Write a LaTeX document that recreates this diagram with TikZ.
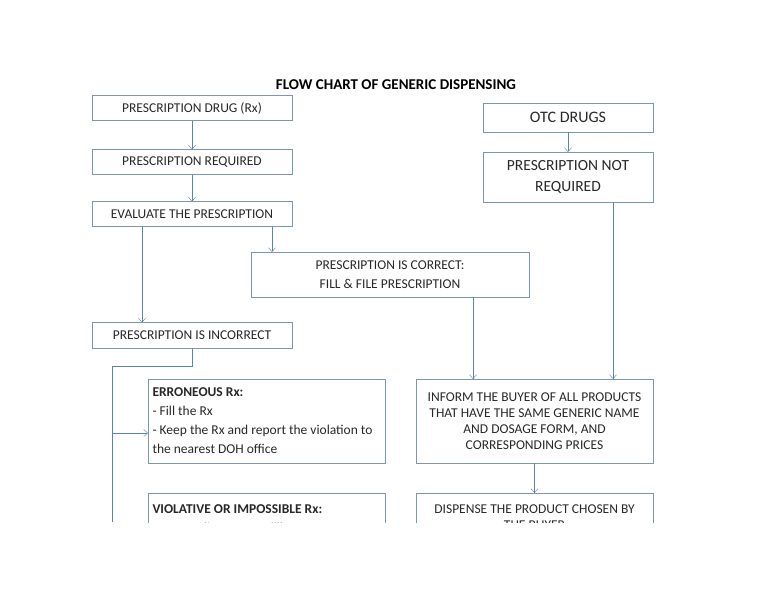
\documentclass[tikz,border=0pt]{standalone}
\usepackage{fontspec}
\setmainfont{Carlito}
\usepackage{xcolor}
\usepackage{tikz}
\usetikzlibrary{positioning,arrows.meta}
\definecolor{BoxLine}{RGB}{125,150,178}
\definecolor{FlowLine}{RGB}{92,130,175}
\definecolor{InkGray}{RGB}{40,40,40}

\begin{document}
\begin{tikzpicture}[x=1pt,y=-1pt]
        % Định nghĩa style cho các ô
        \tikzstyle{box} = [
            draw=BoxLine,
            thin,
            font=\fontsize{13.5}{16}\selectfont,
            text=InkGray,
            align=center,
            inner sep=0pt,
            outer sep=0pt
        ]
        \tikzstyle{listbox} = [
            box,
            minimum width=237pt,
            text width=228pt,
            align=flush left,
            font=\fontsize{13.5}{19}\selectfont
        ]
        \tikzstyle{flow} = [
            draw=FlowLine,
            thin,
            -{Straight Barb[length=4pt,width=7pt]}
        ]
        \tikzstyle{wire} = [draw=FlowLine, thin]

        \useasboundingbox (0,0) rectangle (768,594);

        % Tiêu đề
        \node[font=\fontsize{15}{18}\bfseries\selectfont, text=black] (title) at (396,85) {FLOW CHART OF GENERIC DISPENSING};

        % Cột trái (Rx)
        \node[box, minimum width=200pt, minimum height=25pt] (rxdrug) at (192,108) {PRESCRIPTION DRUG (Rx)};
        \node[box, minimum width=200pt, minimum height=25pt] (rxreq) at (192,162) {PRESCRIPTION REQUIRED};
        \node[box, minimum width=200pt, minimum height=25pt] (rxeval) at (192,214) {EVALUATE THE PRESCRIPTION};
        \node[box, minimum width=278pt, minimum height=45pt, font=\fontsize{13.5}{19}\selectfont] (rxok) at (390,274.5) {PRESCRIPTION IS CORRECT:\\FILL \& FILE PRESCRIPTION};
        \node[box, minimum width=200pt, minimum height=26pt] (rxbad) at (192,335.5) {PRESCRIPTION IS INCORRECT};

        % Cột phải (OTC)
        \node[box, minimum width=170pt, minimum height=29pt, font=\fontsize{16}{19}\selectfont] (otc) at (568,117.5) {OTC DRUGS};
        \node[box, minimum width=170pt, minimum height=50pt, font=\fontsize{15.5}{21}\selectfont] (otcnot) at (568,177) {PRESCRIPTION NOT\\REQUIRED};
        \node[box, minimum width=237pt, minimum height=84pt] (inform) at (534.5,421) {INFORM THE BUYER OF ALL PRODUCTS\\THAT HAVE THE SAME GENERIC NAME\\AND DOSAGE FORM, AND\\CORRESPONDING PRICES};
        \node[listbox, minimum height=84pt] (erroneous) at (266.5,421) {\textbf{ERRONEOUS Rx:}\\- Fill the Rx\\- Keep the Rx and report the violation to\\the nearest DOH office};

        % Các ô bị cắt ở đáy hình
        \begin{scope}
            \clip (0,0) rectangle (768,522);
            \node[listbox, anchor=north, inner ysep=11.5pt] (violative) at (266.5,493) {\textbf{VIOLATIVE OR IMPOSSIBLE Rx:}\\- Do not dispense, or fill\\[20pt]};
            \node[box, anchor=north, minimum width=237pt, inner ysep=12pt] (dispense) at (534.5,493) {DISPENSE THE PRODUCT CHOSEN BY\\THE BUYER\\[10pt]};
            \coordinate (trunkend) at (112,522);
        \end{scope}

        % Mũi tên
        \draw[flow] (rxdrug) -- (rxreq);
        \draw[flow] (rxreq) -- (rxeval);
        \draw[flow] (rxeval.south -| 272,0) -- (rxok.north -| 272,0);
        \draw[flow] (rxeval.south -| 142,0) -- (rxbad.north -| 142,0);
        \draw[flow] (otc) -- (otcnot);
        \draw[flow] (rxok.south -| 473,0) -- (inform.north -| 473,0);
        \draw[flow] (otcnot.south -| 613,0) -- (inform.north -| 613,0);
        \draw[flow] (inform) -- (dispense);
        \draw[wire] (rxbad.south) |- (112,366) -- (trunkend);
        \draw[flow] (112,433) -- (erroneous.west |- 0,433);
\end{tikzpicture}
\end{document}
